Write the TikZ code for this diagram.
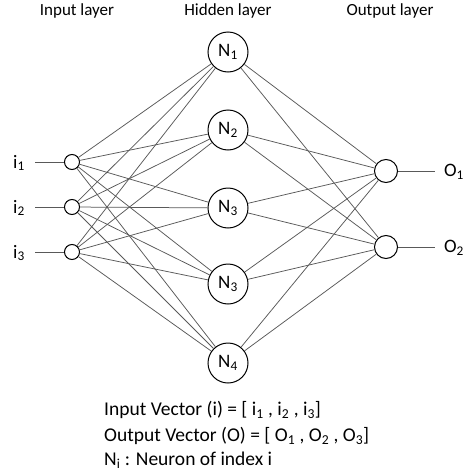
\documentclass[tikz,border=0pt]{standalone}
\usepackage{fontspec}
\setmainfont{Carlito}
\newcommand{\sbs}[1]{\textsubscript{#1}}
\begin{document}
\begin{tikzpicture}[x=1pt,y=-1pt,
  inneur/.style={circle,draw,line width=1pt,minimum size=15pt,inner sep=0pt},
  hidneur/.style={circle,draw,line width=1pt,minimum size=40pt,inner sep=0pt,font=\fontsize{19}{22}\selectfont},
  outneur/.style={circle,draw,line width=1pt,minimum size=23pt,inner sep=0pt},
  conn/.style={draw=black!65,line width=0.75pt},
  iolab/.style={font=\fontsize{19}{22}\selectfont,inner sep=0pt},
  title/.style={font=\fontsize{17}{20}\selectfont,inner sep=0pt},
  lgnd/.style={font=\fontsize{19.5}{22}\selectfont,inner sep=0pt,anchor=base west}]
\useasboundingbox (0,0) rectangle (474,474);
\fill[white] (0,0) rectangle (474,474);
% titles
\node[title] (t1) at (77,11) {Input layer};
\node[title] (t2) at (228,11) {Hidden layer};
\node[title] (t3) at (390,11) {Output layer};
% input nodes
\node[inneur] (i1) at (72,162) {};
\node[inneur] (i2) at (72,207) {};
\node[inneur] (i3) at (72,252) {};
% hidden
\node[hidneur] (h1) at (228,52) {N\sbs{1}};
\node[hidneur] (h2) at (228,130) {N\sbs{2}};
\node[hidneur] (h3) at (228,208) {N\sbs{3}};
\node[hidneur] (h4) at (228,284) {N\sbs{3}};
\node[hidneur] (h5) at (228,363) {N\sbs{4}};
% output
\node[outneur] (o1) at (386,171) {};
\node[outneur] (o2) at (386,247) {};
% labels
\node[iolab] (li1) at (19,163) {i\sbs{1}};
\node[iolab] (li2) at (19,208) {i\sbs{2}};
\node[iolab] (li3) at (19,253) {i\sbs{3}};
\node[iolab] (lo1) at (454,172) {O\sbs{1}};
\node[iolab] (lo2) at (454,248) {O\sbs{2}};
\coordinate (a1) at (35,162);
\coordinate (a2) at (35,207);
\coordinate (a3) at (35,252);
\coordinate (b1) at (435,171);
\coordinate (b2) at (435,247);
\foreach \k in {1,2,3} \draw[conn] (a\k) -- (i\k);
\foreach \k in {1,2} \draw[conn] (o\k) -- (b\k);
\foreach \a in {1,2,3}
  \foreach \b in {1,...,5}
    \draw[conn] (i\a) -- (h\b);
\foreach \b in {1,...,5}
  \foreach \c in {1,2}
    \draw[conn] (h\b) -- (o\c);
% legend
\node[lgnd] (g1) at (104,415) {Input Vector (i) = [ i\sbs{1} , i\sbs{2} , i\sbs{3}]};
\node[lgnd] (g2) at (104,441.5) {Output Vector (O) = [ O\sbs{1} , O\sbs{2} , O\sbs{3}]};
\node[lgnd] (g3) at (104,465) {N\sbs{i} : Neuron of index i};
\end{tikzpicture}
\end{document}
